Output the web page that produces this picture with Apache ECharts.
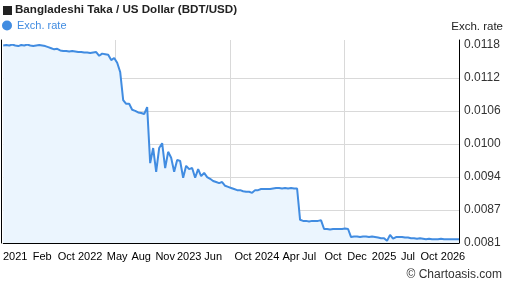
<!DOCTYPE html>
<html><head><meta charset="utf-8">
<script src="https://cdn.jsdelivr.net/npm/echarts@6/dist/echarts.min.js"></script>
<style>html,body{margin:0;padding:0;background:#fff}#c{width:507px;height:288px}</style>
</head><body><div id="c"></div>
<script>
// BDT/USD exchange rate, 5 years, evenly spaced samples
const rates = [
  0.01179, 0.01180, 0.01179, 0.01181, 0.01179, 0.01178, 0.01180, 0.01179, 0.01181, 0.01179, 0.01178, 0.01179, 0.01180, 0.01179, 0.01178,
  0.01176, 0.01174, 0.01172, 0.01173, 0.01170, 0.01169, 0.01169, 0.01168, 0.01169, 0.01168, 0.01167, 0.01167, 0.01166, 0.01166, 0.01165, 0.01166, 0.01167,
  0.01160, 0.01164, 0.01163, 0.01162, 0.01152, 0.01156, 0.01147, 0.01130,
  0.01078, 0.01071, 0.01071, 0.01060, 0.01058, 0.01055, 0.01054, 0.01052,
  0.01065, 0.00961, 0.00989, 0.00945, 0.00989, 0.00998, 0.00952, 0.00982, 0.00971, 0.00945,
  0.00967, 0.00965, 0.00934, 0.00956, 0.00950, 0.00952, 0.00934, 0.00950, 0.00937, 0.00943,
  0.00935, 0.00932, 0.00928, 0.00926, 0.00924, 0.00926, 0.00919, 0.00917, 0.00915, 0.00913,
  0.00911, 0.00911, 0.00909, 0.00908, 0.00908, 0.00906, 0.00911, 0.00911, 0.00913, 0.00913,
  0.00913, 0.00913, 0.00914, 0.00915, 0.00915, 0.00914, 0.00915, 0.00914, 0.00915, 0.00914, 0.00914,
  0.00856, 0.00854, 0.00854, 0.00853, 0.00854, 0.00854, 0.00854, 0.00855,
  0.00839, 0.00839, 0.00838, 0.00839, 0.00839, 0.00839, 0.00839, 0.00840, 0.00839,
  0.00824, 0.00825, 0.00825, 0.00824, 0.00825, 0.00825, 0.00824, 0.00825, 0.00824, 0.00823, 0.00822, 0.00822,
  0.00817, 0.00828,
  0.00821, 0.00824, 0.00824, 0.00824, 0.00823, 0.00823, 0.00822, 0.00822, 0.00821, 0.00822, 0.00821, 0.00820,
  0.00821, 0.00820, 0.00820, 0.00820, 0.00821, 0.00820, 0.00820, 0.00820, 0.00820, 0.00820, 0.00820
];
const tickLabels = ['2021','Feb','Oct','2022','May','Aug','Nov','2023','Jun','Oct','2024','Apr','Jul','Oct','Dec','2025','Jul','Oct','2026'];
const tickIndex  = [4, 13, 21, 29, 38, 46, 54, 62, 70, 80, 88, 96, 102, 110, 118, 127, 135, 142, 150];
const yTickLabels = ['0.0081','0.0087','0.0094','0.0100','0.0106','0.0112','0.0118'];
const yMin = 0.00813, yMax = 0.0118;

const categories = rates.map((_, i) => String(i));
const labelAt = {};
tickIndex.forEach((k, j) => { labelAt[k] = tickLabels[j]; });
const FONT = '"Liberation Sans", Arial, Helvetica, sans-serif';
const BLUE = '#418ce1';
const GRID = '#d9d9d9';

const chart = echarts.init(document.getElementById('c'), null, { renderer: 'canvas' });
chart.setOption({
  animation: false,
  grid: [
    { left: 1, right: 48, top: 40, bottom: 45 },
    { left: 1, right: 48, top: 45, bottom: 45 }
  ],
  legend: {
    left: 2, top: 20, padding: 0, icon: 'circle', itemWidth: 10, itemHeight: 10,
    textStyle: { color: BLUE, fontSize: 11, fontFamily: FONT },
    data: ['Exch. rate']
  },
  xAxis: [
    { gridIndex: 0, type: 'value', min: 0, max: 4, interval: 1,
      axisLine: { show: false }, axisTick: { show: false }, axisLabel: { show: false },
      splitLine: { show: true, showMinLine: false, showMaxLine: false, lineStyle: { color: GRID, width: 1 } } },
    { gridIndex: 1, type: 'category', data: categories, boundaryGap: false,
      axisLine: { onZero: false, lineStyle: { color: '#000', width: 1 } },
      axisTick: { show: false },
      axisLabel: { interval: (i) => labelAt[i] !== undefined, formatter: (v, i) => labelAt[i] || '',
        color: '#000', fontSize: 11, fontFamily: FONT, margin: 8, hideOverlap: false },
      splitLine: { show: false } }
  ],
  yAxis: [
    { gridIndex: 0, type: 'value', min: 0, max: 1, position: 'right',
      axisLine: { show: true, onZero: false, lineStyle: { color: '#000', width: 1 } },
      axisTick: { show: false }, axisLabel: { show: false }, splitLine: { show: false } },
    { gridIndex: 0, type: 'value', min: 0, max: 1, position: 'left',
      axisLine: { show: true, onZero: false, lineStyle: { color: '#000', width: 1 } },
      axisTick: { show: false }, axisLabel: { show: false }, splitLine: { show: false } },
    { gridIndex: 1, type: 'value', min: 0, max: 6, interval: 1, position: 'right',
      axisLine: { show: false, onZero: false }, axisTick: { show: false },
      axisLabel: { formatter: (v) => yTickLabels[v] || '', color: '#333', fontSize: 12, fontFamily: FONT, margin: 5 },
      splitLine: { show: true, showMinLine: false, showMaxLine: false, lineStyle: { color: GRID, width: 1 } } },
    { gridIndex: 1, type: 'value', min: yMin, max: yMax, position: 'right', show: false,
      axisLine: { onZero: false }, splitLine: { show: false } }
  ],
  series: [{
    name: 'Exch. rate', type: 'line', xAxisIndex: 1, yAxisIndex: 3,
    data: rates, showSymbol: false, symbol: 'none',
    lineStyle: { color: BLUE, width: 2 },
    itemStyle: { color: BLUE },
    areaStyle: { color: '#ebf5fe', opacity: 1, origin: 'start' }
  }],
  graphic: [
    { type: 'rect', left: 3, top: 6, shape: { width: 9, height: 9 }, style: { fill: '#222' } },
    { type: 'text', left: 15, top: 4, style: { text: 'Bangladeshi Taka / US Dollar (BDT/USD)',
      font: 'bold 11.6px ' + FONT, fill: '#222' } },
    { type: 'text', right: 4, top: 21, style: { text: 'Exch. rate', font: '11.5px ' + FONT, fill: '#222' } },
    { type: 'text', right: 5, top: 269, style: { text: '© Chartoasis.com', font: '12px ' + FONT, fill: '#333' } }
  ]
});
</script>
</body></html>
